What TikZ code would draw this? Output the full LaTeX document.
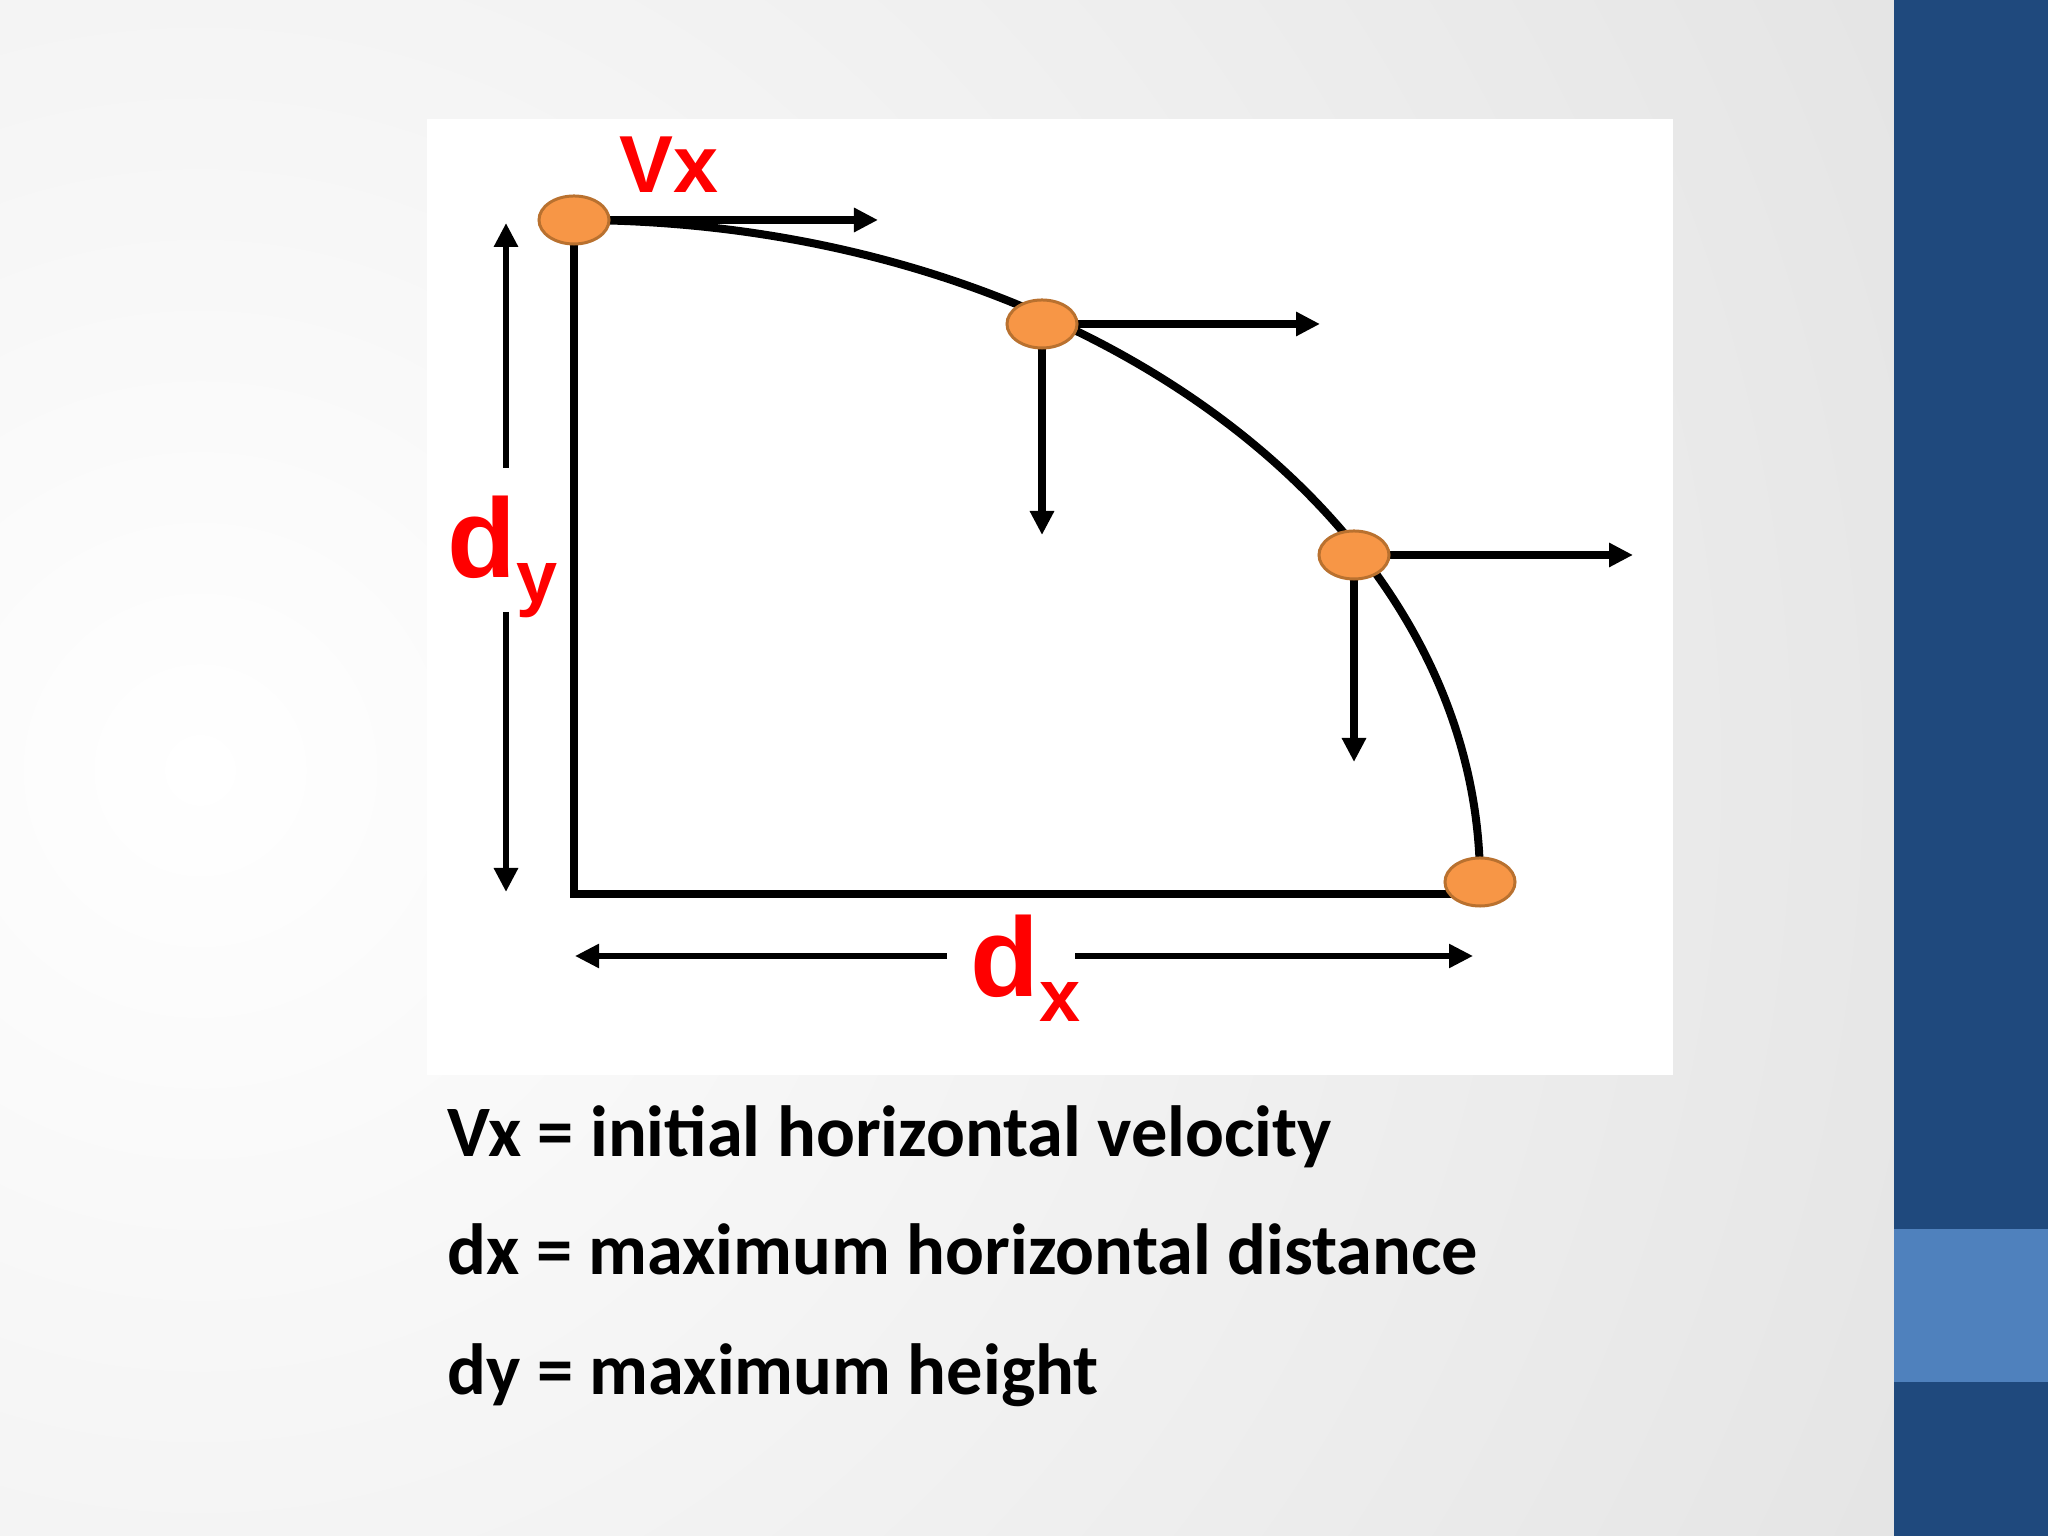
\documentclass[tikz,border=0pt]{standalone}
\usepackage{fontspec}
\setmainfont{Carlito}
\newfontfamily\lblfont{Liberation Sans}
\usetikzlibrary{shapes.geometric,arrows.meta}
\definecolor{bggray}{HTML}{D6D6D6}
\definecolor{barblue}{HTML}{1F497D}
\definecolor{barlight}{HTML}{4F81BD}
\definecolor{ballfill}{HTML}{F79646}
\definecolor{balledge}{HTML}{B9712F}
\newcommand{\dlabel}[1]{d\raisebox{-7.1pt}{\fontsize{21}{21}\selectfont #1}}
\tikzset{
ball/.style={ellipse,fill=ballfill,draw=balledge,line width=0.03cm,minimum width=0.7cm,minimum height=0.48cm,inner sep=0},
vec/.style={line width=0.075cm,-{Triangle[length=0.24cm,width=0.23cm]}},
redlbl/.style={text=red,inner sep=0,anchor=base west},
caption/.style={font=\bfseries\fontsize{20.6}{24}\selectfont,inner sep=0,anchor=base west}
}
\begin{document}
\begin{tikzpicture}[x=0.01cm,y=0.01cm]
\useasboundingbox (0,0) rectangle (2048,1536);
\begin{scope}
\clip (0,0) rectangle (2048,1536);
\shade[inner color=white,outer color=bggray] (200,766) circle (2900);
\end{scope}
\fill[barblue] (1894,0) rectangle (2048,1536);
\fill[barlight] (1894,154) rectangle (2048,307);
\fill[white] (427,461) rectangle (1673,1417);
\coordinate (p1) at (574,1316);
\coordinate (p2) at (1042,1212);
\coordinate (p3) at (1354,981);
\coordinate (p4) at (1480,654);
\coordinate (corner) at (574,642);
\draw[line width=0.08cm] (p1) -- (corner) -- (corner -| p4);
\draw[line width=0.08cm] (p1) arc[start angle=90,end angle=0,x radius=906,y radius=662];
\coordinate (v1) at (878,1316);
\coordinate (v2) at (1320,1212);
\coordinate (v3) at (1633,981);
\coordinate (g2) at (1042,1001);
\coordinate (g3) at (1354,774);
\foreach \a/\b in {p1/v1,p2/v2,p3/v3,p2/g2,p3/g3}
\draw[vec] (\a) -- (\b);
\foreach \n/\p in {b1/p1,b2/p2,b3/p3,b4/p4}
\node[ball] (\n) at (\p) {};
\node[redlbl,font=\lblfont\bfseries\fontsize{23}{23}\selectfont] (vx) at (619,1343) {Vx};
\node[redlbl,font=\lblfont\bfseries\fontsize{32}{32}\selectfont] (dy) at (447,958) {\dlabel{y}};
\node[redlbl,font=\lblfont\bfseries\fontsize{32}{32}\selectfont] (dx) at (970,539) {\dlabel{x}};
\coordinate (dyTop) at (506,1313);
\coordinate (dyA) at (506,1068);
\coordinate (dyB) at (506,924);
\coordinate (dyBot) at (506,644);
\draw[vec,line width=0.065cm] (dyA) -- (dyTop);
\draw[vec,line width=0.065cm] (dyB) -- (dyBot);
\coordinate (dxLeft) at (575,580);
\coordinate (dxA) at (947,580);
\coordinate (dxB) at (1075,580);
\coordinate (dxRight) at (1473,580);
\draw[vec,line width=0.055cm] (dxA) -- (dxLeft);
\draw[vec,line width=0.055cm] (dxB) -- (dxRight);
\node[caption] (t1) at (447,379) {Vx = initial horizontal velocity};
\node[caption] (t2) at (447,261) {dx = maximum horizontal distance};
\node[caption] (t3) at (447,141) {dy = maximum height};
\end{tikzpicture}
\end{document}
